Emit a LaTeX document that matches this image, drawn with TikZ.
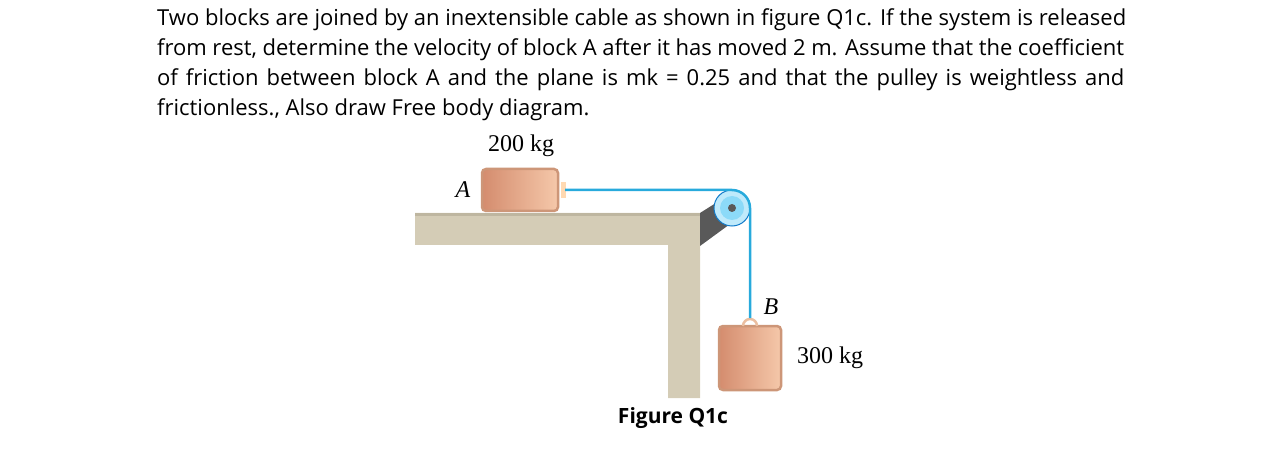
\documentclass[tikz,border=0pt]{standalone}
\usepackage{fontspec}
\setmainfont{Open Sans}
\newfontfamily\serifA{Liberation Serif}
\begin{document}
\begin{tikzpicture}[x=1pt,y=-1pt,
  para/.style={anchor=west,inner sep=0pt,font=\fontsize{22}{26}\selectfont},
  lab/.style={inner sep=0pt,font=\serifA\fontsize{24}{28}\selectfont},
  blk/.style={draw={rgb,255:red,205;green,150;blue,120},line width=2.5pt,rounded corners=4pt,left color={rgb,255:red,212;green,140;blue,110},right color={rgb,255:red,245;green,200;blue,170}},
  cable/.style={draw={rgb,255:red,40;green,170;blue,220},line width=2.5pt}]
\useasboundingbox (0,0) rectangle (1284,454);
\node[para] (l1) at (157,20) {\makebox[969pt][s]{Two blocks are joined by an inextensible cable as shown in figure Q1c. If the system is released}};
\node[para] (l2) at (157,50) {\makebox[967pt][s]{from rest, determine the velocity of block A after it has moved 2 m. Assume that the coefficient}};
\node[para] (l3) at (157,80) {\makebox[967pt][s]{of friction between block A and the plane is mk = 0.25 and that the pulley is weightless and}};
\node[para] (l4) at (157,110) {frictionless., Also draw Free body diagram.};
% table
\fill[color={rgb,255:red,212;green,204;blue,182}] (415,213) -- (700,213) -- (700,398) -- (668,398) -- (668,245) -- (415,245) -- cycle;
\fill[color={rgb,255:red,190;green,182;blue,160}] (415,213) rectangle (700,216);
% bracket
\fill[gray!70!black] (700,213) -- (727,196) -- (741,216) -- (700,246) -- cycle;
% pulley
\node[circle,fill=cyan!25,draw=cyan!60!blue,line width=1pt,minimum size=36pt,inner sep=0pt] (p) at (732,208) {};
\node[circle,fill=cyan!45,minimum size=24pt,inner sep=0pt] (pi) at (p) {};
\node[circle,fill=gray!70!black,minimum size=8pt,inner sep=0pt] (ax) at (p) {};
% blocks
\node[blk,minimum width=76pt,minimum height=42pt] (A) at (520,190) {};
\node[blk,minimum width=62pt,minimum height=64pt] (B) at (750,358) {};
\coordinate (hA) at (565,190);
\coordinate (hB) at (750,318);
\fill[orange!30] (A.east) ++(2,-8) rectangle ++(5,16);
\draw[draw={rgb,255:red,235;green,190;blue,160},line width=2.5pt] (750,326) ++(-7,0) arc(180:360:7);
\draw[cable] (hA) -- (732,190) arc(-90:0:18) -- (hB);
\node[lab] (t200) at (521,146) {200 kg};
\node[lab] (tA) at (463,190) {\itshape A};
\node[lab] (tB) at (771,307) {\itshape B};
\node[lab] (t300) at (830,358) {300 kg};
\node[inner sep=0pt,font=\bfseries\fontsize{21}{25}\selectfont] (fig) at (673,418) {Figure Q1c};
\end{tikzpicture}
\end{document}
